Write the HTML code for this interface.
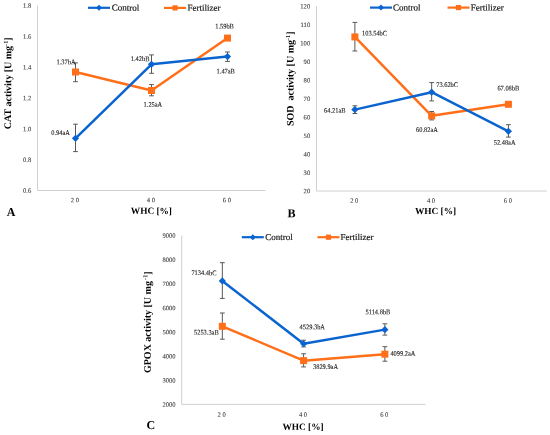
<!DOCTYPE html>
<html><head><meta charset="utf-8"><style>
html,body{margin:0;padding:0;background:#fff;width:550px;height:435px;overflow:hidden}
svg{display:block;filter:blur(0.3px)}
text{font-family:"Liberation Serif",serif;white-space:pre}
</style></head><body>
<svg width="550" height="435" viewBox="0 0 550 435">
<rect width="550" height="435" fill="#fff"/>
<line x1="37.5" y1="5.5" x2="37.5" y2="190.5" stroke="#d0d0d0" stroke-width="1"/>
<line x1="37.5" y1="190.5" x2="265.5" y2="190.5" stroke="#d0d0d0" stroke-width="1"/>
<text transform="translate(31.30,7.88) rotate(0.15)" font-size="6.6" text-anchor="end" fill="#3c3c3c" font-weight="normal" stroke="#3c3c3c" stroke-width="0.1" >1.8</text>
<text transform="translate(31.30,38.71) rotate(0.15)" font-size="6.6" text-anchor="end" fill="#3c3c3c" font-weight="normal" stroke="#3c3c3c" stroke-width="0.1" >1.6</text>
<text transform="translate(31.30,69.54) rotate(0.15)" font-size="6.6" text-anchor="end" fill="#3c3c3c" font-weight="normal" stroke="#3c3c3c" stroke-width="0.1" >1.4</text>
<text transform="translate(31.30,100.38) rotate(0.15)" font-size="6.6" text-anchor="end" fill="#3c3c3c" font-weight="normal" stroke="#3c3c3c" stroke-width="0.1" >1.2</text>
<text transform="translate(31.30,131.21) rotate(0.15)" font-size="6.6" text-anchor="end" fill="#3c3c3c" font-weight="normal" stroke="#3c3c3c" stroke-width="0.1" >1.0</text>
<text transform="translate(31.30,162.04) rotate(0.15)" font-size="6.6" text-anchor="end" fill="#3c3c3c" font-weight="normal" stroke="#3c3c3c" stroke-width="0.1" >0.8</text>
<text transform="translate(31.30,192.88) rotate(0.15)" font-size="6.6" text-anchor="end" fill="#3c3c3c" font-weight="normal" stroke="#3c3c3c" stroke-width="0.1" >0.6</text>
<text transform="translate(74.90,202.18) rotate(0.15)" font-size="6.6" text-anchor="middle" fill="#3c3c3c" font-weight="normal" stroke="#3c3c3c" stroke-width="0.1" >2 0</text>
<text transform="translate(150.90,202.18) rotate(0.15)" font-size="6.6" text-anchor="middle" fill="#3c3c3c" font-weight="normal" stroke="#3c3c3c" stroke-width="0.1" >4 0</text>
<text transform="translate(226.90,202.18) rotate(0.15)" font-size="6.6" text-anchor="middle" fill="#3c3c3c" font-weight="normal" stroke="#3c3c3c" stroke-width="0.1" >6 0</text>
<text transform="translate(151.40,213.87) rotate(0.15)" font-size="9.3" text-anchor="middle" fill="#000" font-weight="bold" >WHC [%]</text>
<text transform="translate(11.2,83.3) rotate(-89.85)" x="0" y="0" font-size="10" text-anchor="middle" fill="#000" font-weight="bold">CAT activity [U mg<tspan font-size="6.2" dy="-3.6">-1</tspan><tspan dy="3.6">]</tspan></text>
<text transform="translate(6.80,216.00) rotate(0.15)" font-size="12" text-anchor="start" fill="#000" font-weight="bold" >A</text>
<path d="M75.50 124.2V151.6M73.10 124.2H77.90M73.10 151.6H77.90" stroke="#595959" stroke-width="1" fill="none"/>
<path d="M151.50 54.9V73.3M149.10 54.9H153.90M149.10 73.3H153.90" stroke="#595959" stroke-width="1" fill="none"/>
<path d="M227.50 52V61.4M225.10 52H229.90M225.10 61.4H229.90" stroke="#595959" stroke-width="1" fill="none"/>
<path d="M75.50 62.9V81.7M73.10 62.9H77.90M73.10 81.7H77.90" stroke="#595959" stroke-width="1" fill="none"/>
<path d="M151.50 84.6V95.8M149.10 84.6H153.90M149.10 95.8H153.90" stroke="#595959" stroke-width="1" fill="none"/>
<polyline points="75.50,71.99 151.50,90.49 227.50,38.08" fill="none" stroke="#ff6f1a" stroke-width="2.5" stroke-linejoin="round"/>
<polyline points="75.50,138.28 151.50,64.28 227.50,56.58" fill="none" stroke="#0a64cf" stroke-width="2.5" stroke-linejoin="round"/>
<rect x="72.00" y="68.49" width="7" height="7" fill="#ff6f1a"/>
<rect x="148.00" y="86.99" width="7" height="7" fill="#ff6f1a"/>
<rect x="224.00" y="34.58" width="7" height="7" fill="#ff6f1a"/>
<path d="M75.50 134.68L79.10 138.28L75.50 141.88L71.90 138.28Z" fill="#0a64cf"/>
<path d="M151.50 60.68L155.10 64.28L151.50 67.88L147.90 64.28Z" fill="#0a64cf"/>
<path d="M227.50 52.98L231.10 56.58L227.50 60.18L223.90 56.58Z" fill="#0a64cf"/>
<text transform="translate(56.50,64.19) rotate(0.15) scale(1,1.1)" font-size="6.4" text-anchor="start" fill="#1a1a1a" font-weight="normal" stroke="#1a1a1a" stroke-width="0.1" >1.37bA</text>
<text transform="translate(51.30,134.89) rotate(0.15) scale(1,1.1)" font-size="6.4" text-anchor="start" fill="#1a1a1a" font-weight="normal" stroke="#1a1a1a" stroke-width="0.1" >0.94aA</text>
<text transform="translate(130.80,61.09) rotate(0.15) scale(1,1.1)" font-size="6.4" text-anchor="start" fill="#1a1a1a" font-weight="normal" stroke="#1a1a1a" stroke-width="0.1" >1.42bB</text>
<text transform="translate(143.60,106.69) rotate(0.15) scale(1,1.1)" font-size="6.4" text-anchor="start" fill="#1a1a1a" font-weight="normal" stroke="#1a1a1a" stroke-width="0.1" >1.25aA</text>
<text transform="translate(215.20,28.49) rotate(0.15) scale(1,1.1)" font-size="6.4" text-anchor="start" fill="#1a1a1a" font-weight="normal" stroke="#1a1a1a" stroke-width="0.1" >1.59bB</text>
<text transform="translate(216.60,73.49) rotate(0.15) scale(1,1.1)" font-size="6.4" text-anchor="start" fill="#1a1a1a" font-weight="normal" stroke="#1a1a1a" stroke-width="0.1" >1.47aB</text>
<line x1="88" y1="7.8" x2="110" y2="7.8" stroke="#0a64cf" stroke-width="2.2"/>
<path d="M99 4.8L102 7.8L99 10.8L96 7.8Z" fill="#0a64cf"/>
<text transform="translate(111.70,10.59) rotate(0.15)" font-size="9.0" text-anchor="start" fill="#1a1a1a" font-weight="normal" stroke="#1a1a1a" stroke-width="0.2">Control</text>
<line x1="164" y1="7.9" x2="186" y2="7.9" stroke="#ff6f1a" stroke-width="2.2"/>
<rect x="172.4" y="5.300000000000001" width="5.2" height="5.2" fill="#ff6f1a"/>
<text transform="translate(187.40,10.69) rotate(0.15)" font-size="9.0" text-anchor="start" fill="#1a1a1a" font-weight="normal" stroke="#1a1a1a" stroke-width="0.2">Fertilizer</text>
<line x1="316.5" y1="6.2" x2="316.5" y2="191.0" stroke="#d0d0d0" stroke-width="1"/>
<line x1="316.5" y1="191.0" x2="546.8" y2="191.0" stroke="#d0d0d0" stroke-width="1"/>
<text transform="translate(310.20,8.58) rotate(0.15)" font-size="6.6" text-anchor="end" fill="#3c3c3c" font-weight="normal" stroke="#3c3c3c" stroke-width="0.1" >120</text>
<text transform="translate(310.20,27.06) rotate(0.15)" font-size="6.6" text-anchor="end" fill="#3c3c3c" font-weight="normal" stroke="#3c3c3c" stroke-width="0.1" >110</text>
<text transform="translate(310.20,45.54) rotate(0.15)" font-size="6.6" text-anchor="end" fill="#3c3c3c" font-weight="normal" stroke="#3c3c3c" stroke-width="0.1" >100</text>
<text transform="translate(310.20,64.02) rotate(0.15)" font-size="6.6" text-anchor="end" fill="#3c3c3c" font-weight="normal" stroke="#3c3c3c" stroke-width="0.1" >90</text>
<text transform="translate(310.20,82.50) rotate(0.15)" font-size="6.6" text-anchor="end" fill="#3c3c3c" font-weight="normal" stroke="#3c3c3c" stroke-width="0.1" >80</text>
<text transform="translate(310.20,100.98) rotate(0.15)" font-size="6.6" text-anchor="end" fill="#3c3c3c" font-weight="normal" stroke="#3c3c3c" stroke-width="0.1" >70</text>
<text transform="translate(310.20,119.46) rotate(0.15)" font-size="6.6" text-anchor="end" fill="#3c3c3c" font-weight="normal" stroke="#3c3c3c" stroke-width="0.1" >60</text>
<text transform="translate(310.20,137.94) rotate(0.15)" font-size="6.6" text-anchor="end" fill="#3c3c3c" font-weight="normal" stroke="#3c3c3c" stroke-width="0.1" >50</text>
<text transform="translate(310.20,156.42) rotate(0.15)" font-size="6.6" text-anchor="end" fill="#3c3c3c" font-weight="normal" stroke="#3c3c3c" stroke-width="0.1" >40</text>
<text transform="translate(310.20,174.90) rotate(0.15)" font-size="6.6" text-anchor="end" fill="#3c3c3c" font-weight="normal" stroke="#3c3c3c" stroke-width="0.1" >30</text>
<text transform="translate(310.20,193.38) rotate(0.15)" font-size="6.6" text-anchor="end" fill="#3c3c3c" font-weight="normal" stroke="#3c3c3c" stroke-width="0.1" >20</text>
<text transform="translate(354.28,202.78) rotate(0.15)" font-size="6.6" text-anchor="middle" fill="#3c3c3c" font-weight="normal" stroke="#3c3c3c" stroke-width="0.1" >2 0</text>
<text transform="translate(431.05,202.78) rotate(0.15)" font-size="6.6" text-anchor="middle" fill="#3c3c3c" font-weight="normal" stroke="#3c3c3c" stroke-width="0.1" >4 0</text>
<text transform="translate(507.82,202.78) rotate(0.15)" font-size="6.6" text-anchor="middle" fill="#3c3c3c" font-weight="normal" stroke="#3c3c3c" stroke-width="0.1" >6 0</text>
<text transform="translate(435.50,214.07) rotate(0.15)" font-size="9.3" text-anchor="middle" fill="#000" font-weight="bold" >WHC [%]</text>
<text transform="translate(293.5,78.8) rotate(-89.85)" x="0" y="0" font-size="10" text-anchor="middle" fill="#000" font-weight="bold">SOD  activity [U mg<tspan font-size="6.2" dy="-3.6">-1</tspan><tspan dy="3.6">]</tspan></text>
<text transform="translate(287.40,217.20) rotate(0.15)" font-size="12" text-anchor="start" fill="#000" font-weight="bold" >B</text>
<path d="M354.88 105.8V113.5M352.48 105.8H357.28M352.48 113.5H357.28" stroke="#595959" stroke-width="1" fill="none"/>
<path d="M431.65 82.6V100.9M429.25 82.6H434.05M429.25 100.9H434.05" stroke="#595959" stroke-width="1" fill="none"/>
<path d="M508.42 124.7V137.1M506.02 124.7H510.82M506.02 137.1H510.82" stroke="#595959" stroke-width="1" fill="none"/>
<path d="M354.88 22.4V51M352.48 22.4H357.28M352.48 51H357.28" stroke="#595959" stroke-width="1" fill="none"/>
<path d="M431.65 111.5V119.9M429.25 111.5H434.05M429.25 119.9H434.05" stroke="#595959" stroke-width="1" fill="none"/>
<polyline points="354.88,36.92 431.65,115.86 508.42,104.30" fill="none" stroke="#ff6f1a" stroke-width="2.5" stroke-linejoin="round"/>
<polyline points="354.88,109.60 431.65,92.21 508.42,131.28" fill="none" stroke="#0a64cf" stroke-width="2.5" stroke-linejoin="round"/>
<rect x="351.38" y="33.42" width="7" height="7" fill="#ff6f1a"/>
<rect x="428.15" y="112.36" width="7" height="7" fill="#ff6f1a"/>
<rect x="504.92" y="100.80" width="7" height="7" fill="#ff6f1a"/>
<path d="M354.88 106.00L358.48 109.60L354.88 113.20L351.28 109.60Z" fill="#0a64cf"/>
<path d="M431.65 88.61L435.25 92.21L431.65 95.81L428.05 92.21Z" fill="#0a64cf"/>
<path d="M508.42 127.68L512.02 131.28L508.42 134.88L504.82 131.28Z" fill="#0a64cf"/>
<text transform="translate(362.00,35.39) rotate(0.15) scale(1,1.1)" font-size="6.4" text-anchor="start" fill="#1a1a1a" font-weight="normal" stroke="#1a1a1a" stroke-width="0.1" >103.54bC</text>
<text transform="translate(324.00,112.69) rotate(0.15) scale(1,1.1)" font-size="6.4" text-anchor="start" fill="#1a1a1a" font-weight="normal" stroke="#1a1a1a" stroke-width="0.1" >64.21aB</text>
<text transform="translate(436.20,86.89) rotate(0.15) scale(1,1.1)" font-size="6.4" text-anchor="start" fill="#1a1a1a" font-weight="normal" stroke="#1a1a1a" stroke-width="0.1" >73.62bC</text>
<text transform="translate(416.00,131.89) rotate(0.15) scale(1,1.1)" font-size="6.4" text-anchor="start" fill="#1a1a1a" font-weight="normal" stroke="#1a1a1a" stroke-width="0.1" >60.82aA</text>
<text transform="translate(497.40,90.39) rotate(0.15) scale(1,1.1)" font-size="6.4" text-anchor="start" fill="#1a1a1a" font-weight="normal" stroke="#1a1a1a" stroke-width="0.1" >67.08bB</text>
<text transform="translate(493.70,144.69) rotate(0.15) scale(1,1.1)" font-size="6.4" text-anchor="start" fill="#1a1a1a" font-weight="normal" stroke="#1a1a1a" stroke-width="0.1" >52.48aA</text>
<line x1="370" y1="7.6" x2="392" y2="7.6" stroke="#0a64cf" stroke-width="2.2"/>
<path d="M381 4.6L384 7.6L381 10.6L378 7.6Z" fill="#0a64cf"/>
<text transform="translate(393.10,10.39) rotate(0.15)" font-size="9.0" text-anchor="start" fill="#1a1a1a" font-weight="normal" stroke="#1a1a1a" stroke-width="0.2">Control</text>
<line x1="447.5" y1="7.6" x2="469.5" y2="7.6" stroke="#ff6f1a" stroke-width="2.2"/>
<rect x="455.9" y="5.0" width="5.2" height="5.2" fill="#ff6f1a"/>
<text transform="translate(470.80,10.39) rotate(0.15)" font-size="9.0" text-anchor="start" fill="#1a1a1a" font-weight="normal" stroke="#1a1a1a" stroke-width="0.2">Fertilizer</text>
<line x1="181.7" y1="235.5" x2="181.7" y2="404.4" stroke="#d0d0d0" stroke-width="1"/>
<line x1="181.7" y1="404.4" x2="425.5" y2="404.4" stroke="#d0d0d0" stroke-width="1"/>
<text transform="translate(175.60,237.88) rotate(0.15)" font-size="6.6" text-anchor="end" fill="#3c3c3c" font-weight="normal" stroke="#3c3c3c" stroke-width="0.1" >9000</text>
<text transform="translate(175.60,262.00) rotate(0.15)" font-size="6.6" text-anchor="end" fill="#3c3c3c" font-weight="normal" stroke="#3c3c3c" stroke-width="0.1" >8000</text>
<text transform="translate(175.60,286.13) rotate(0.15)" font-size="6.6" text-anchor="end" fill="#3c3c3c" font-weight="normal" stroke="#3c3c3c" stroke-width="0.1" >7000</text>
<text transform="translate(175.60,310.26) rotate(0.15)" font-size="6.6" text-anchor="end" fill="#3c3c3c" font-weight="normal" stroke="#3c3c3c" stroke-width="0.1" >6000</text>
<text transform="translate(175.60,334.39) rotate(0.15)" font-size="6.6" text-anchor="end" fill="#3c3c3c" font-weight="normal" stroke="#3c3c3c" stroke-width="0.1" >5000</text>
<text transform="translate(175.60,358.52) rotate(0.15)" font-size="6.6" text-anchor="end" fill="#3c3c3c" font-weight="normal" stroke="#3c3c3c" stroke-width="0.1" >4000</text>
<text transform="translate(175.60,382.65) rotate(0.15)" font-size="6.6" text-anchor="end" fill="#3c3c3c" font-weight="normal" stroke="#3c3c3c" stroke-width="0.1" >3000</text>
<text transform="translate(175.60,406.78) rotate(0.15)" font-size="6.6" text-anchor="end" fill="#3c3c3c" font-weight="normal" stroke="#3c3c3c" stroke-width="0.1" >2000</text>
<text transform="translate(221.73,416.68) rotate(0.15)" font-size="6.6" text-anchor="middle" fill="#3c3c3c" font-weight="normal" stroke="#3c3c3c" stroke-width="0.1" >2 0</text>
<text transform="translate(303.00,416.68) rotate(0.15)" font-size="6.6" text-anchor="middle" fill="#3c3c3c" font-weight="normal" stroke="#3c3c3c" stroke-width="0.1" >4 0</text>
<text transform="translate(384.27,416.68) rotate(0.15)" font-size="6.6" text-anchor="middle" fill="#3c3c3c" font-weight="normal" stroke="#3c3c3c" stroke-width="0.1" >6 0</text>
<text transform="translate(303.00,429.77) rotate(0.15)" font-size="9.3" text-anchor="middle" fill="#000" font-weight="bold" >WHC [%]</text>
<text transform="translate(150.8,322.2) rotate(-89.85)" x="0" y="0" font-size="10" text-anchor="middle" fill="#000" font-weight="bold">GPOX activity [U mg<tspan font-size="6.2" dx="1.2" dy="-3.6">-1</tspan><tspan dy="3.6">]</tspan></text>
<text transform="translate(146.40,429.00) rotate(0.15)" font-size="12" text-anchor="start" fill="#000" font-weight="bold" >C</text>
<path d="M222.33 262.7V298.4M219.93 262.7H224.73M219.93 298.4H224.73" stroke="#595959" stroke-width="1" fill="none"/>
<path d="M303.60 340.2V346.9M301.20 340.2H306.00M301.20 346.9H306.00" stroke="#595959" stroke-width="1" fill="none"/>
<path d="M384.87 323.8V335.1M382.47 323.8H387.27M382.47 335.1H387.27" stroke="#595959" stroke-width="1" fill="none"/>
<path d="M222.33 313V339.2M219.93 313H224.73M219.93 339.2H224.73" stroke="#595959" stroke-width="1" fill="none"/>
<path d="M303.60 353.8V366.9M301.20 353.8H306.00M301.20 366.9H306.00" stroke="#595959" stroke-width="1" fill="none"/>
<path d="M384.87 346.7V361.2M382.47 346.7H387.27M382.47 361.2H387.27" stroke="#595959" stroke-width="1" fill="none"/>
<polyline points="222.33,326.30 303.60,360.65 384.87,354.15" fill="none" stroke="#ff6f1a" stroke-width="2.5" stroke-linejoin="round"/>
<polyline points="222.33,280.91 303.60,343.77 384.87,329.64" fill="none" stroke="#0a64cf" stroke-width="2.5" stroke-linejoin="round"/>
<rect x="218.83" y="322.80" width="7" height="7" fill="#ff6f1a"/>
<rect x="300.10" y="357.15" width="7" height="7" fill="#ff6f1a"/>
<rect x="381.37" y="350.65" width="7" height="7" fill="#ff6f1a"/>
<path d="M222.33 277.31L225.93 280.91L222.33 284.51L218.73 280.91Z" fill="#0a64cf"/>
<path d="M303.60 340.17L307.20 343.77L303.60 347.37L300.00 343.77Z" fill="#0a64cf"/>
<path d="M384.87 326.04L388.47 329.64L384.87 333.24L381.27 329.64Z" fill="#0a64cf"/>
<text transform="translate(191.40,275.09) rotate(0.15) scale(1,1.1)" font-size="6.4" text-anchor="start" fill="#1a1a1a" font-weight="normal" stroke="#1a1a1a" stroke-width="0.1" >7134.4bC</text>
<text transform="translate(194.00,334.59) rotate(0.15) scale(1,1.1)" font-size="6.4" text-anchor="start" fill="#1a1a1a" font-weight="normal" stroke="#1a1a1a" stroke-width="0.1" >5253.3aB</text>
<text transform="translate(299.60,329.19) rotate(0.15) scale(1,1.1)" font-size="6.4" text-anchor="start" fill="#1a1a1a" font-weight="normal" stroke="#1a1a1a" stroke-width="0.1" >4529.3bA</text>
<text transform="translate(313.00,368.89) rotate(0.15) scale(1,1.1)" font-size="6.4" text-anchor="start" fill="#1a1a1a" font-weight="normal" stroke="#1a1a1a" stroke-width="0.1" >3829.9aA</text>
<text transform="translate(365.50,314.29) rotate(0.15) scale(1,1.1)" font-size="6.4" text-anchor="start" fill="#1a1a1a" font-weight="normal" stroke="#1a1a1a" stroke-width="0.1" >5114.8bB</text>
<text transform="translate(390.40,355.79) rotate(0.15) scale(1,1.1)" font-size="6.4" text-anchor="start" fill="#1a1a1a" font-weight="normal" stroke="#1a1a1a" stroke-width="0.1" >4099.2aA</text>
<line x1="241.8" y1="237.2" x2="263.8" y2="237.2" stroke="#0a64cf" stroke-width="2.2"/>
<path d="M252.8 234.2L255.8 237.2L252.8 240.2L249.8 237.2Z" fill="#0a64cf"/>
<text transform="translate(265.30,239.99) rotate(0.15)" font-size="9.0" text-anchor="start" fill="#1a1a1a" font-weight="normal" stroke="#1a1a1a" stroke-width="0.2">Control</text>
<line x1="317.5" y1="237.2" x2="339.5" y2="237.2" stroke="#ff6f1a" stroke-width="2.2"/>
<rect x="325.9" y="234.6" width="5.2" height="5.2" fill="#ff6f1a"/>
<text transform="translate(340.50,239.99) rotate(0.15)" font-size="9.0" text-anchor="start" fill="#1a1a1a" font-weight="normal" stroke="#1a1a1a" stroke-width="0.2">Fertilizer</text>
</svg>
</body></html>
